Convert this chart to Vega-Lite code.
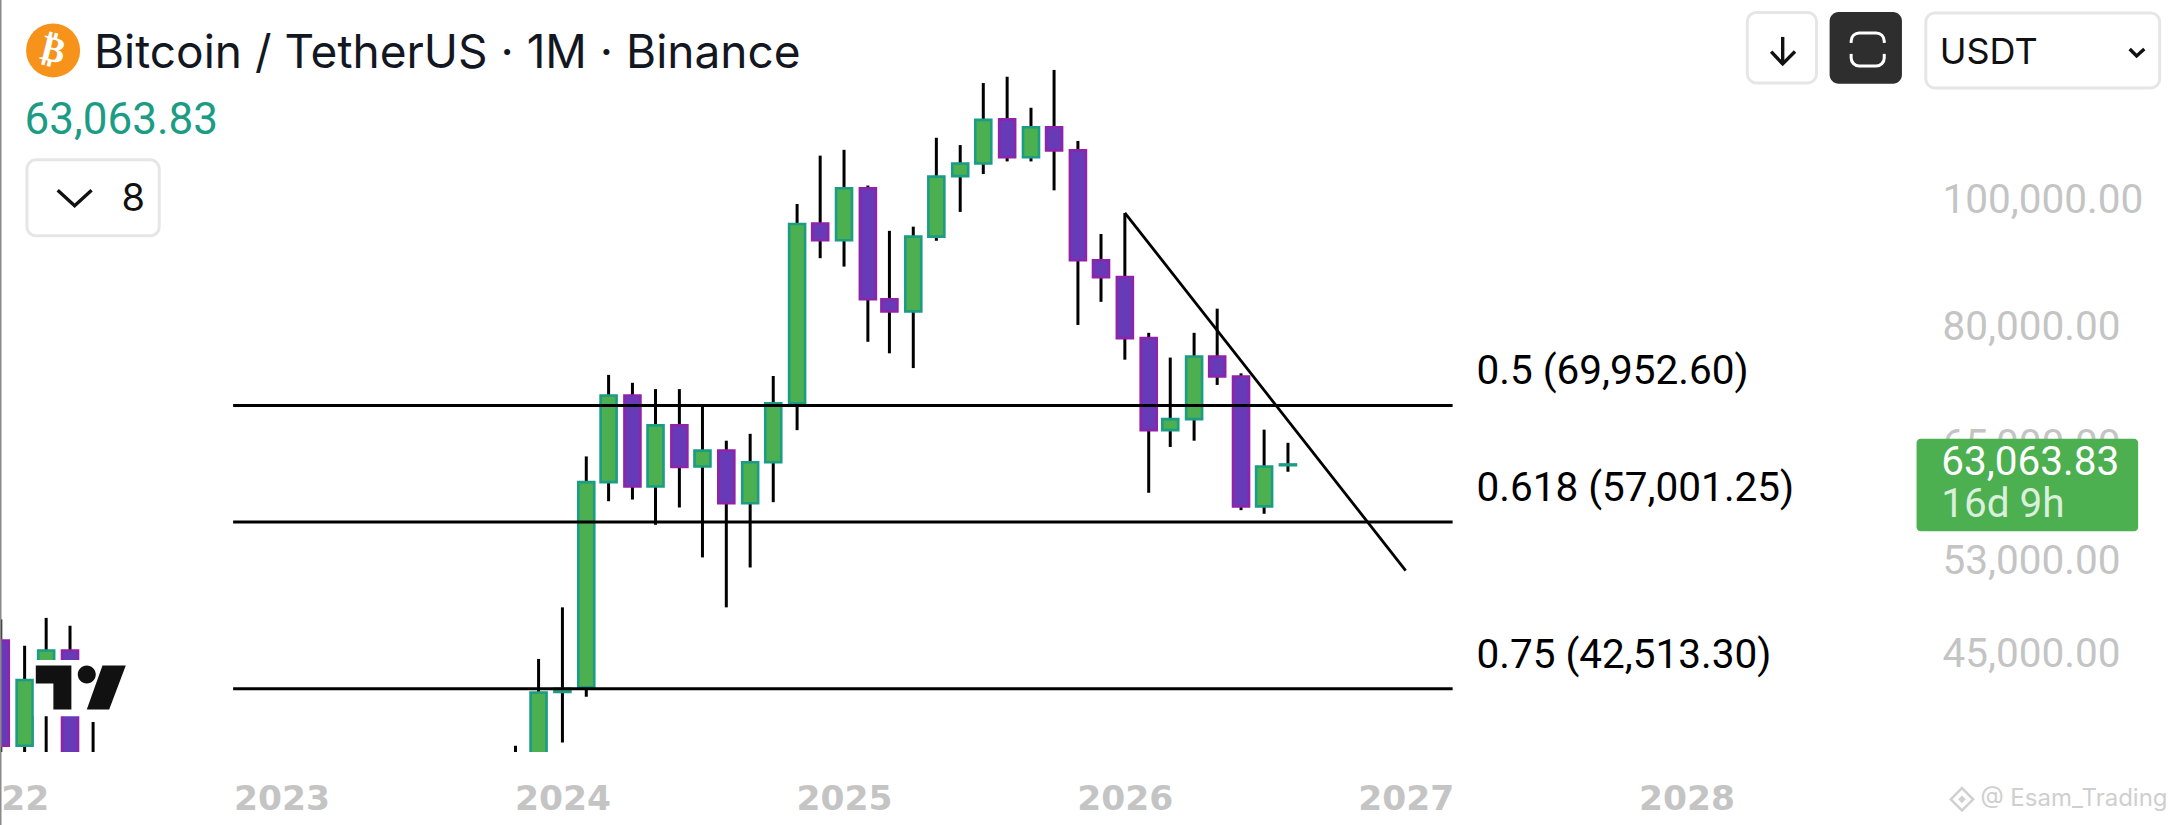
{
  "$schema": "https://vega.github.io/schema/vega-lite/v6.json",
  "width": 2172,
  "height": 752,
  "autosize": "none",
  "padding": {"left": 0, "top": 0, "right": 0, "bottom": 73},
  "background": "white",
  "view": {"stroke": null},
  "title": {
    "text": "Bitcoin / TetherUS · 1M · Binance",
    "anchor": "start",
    "frame": "group",
    "orient": "top",
    "offset": 0,
    "dx": 94,
    "dy": 101,
    "baseline": "middle",
    "font": "Inter",
    "fontSize": 46,
    "fontWeight": "normal",
    "color": "#131722"
  },
  "datasets": {
    "candles": [
      {"date": "2022-01-01", "open": 46280, "high": 48030, "low": 32900, "close": 38470, "dir": "down"},
      {"date": "2022-02-01", "open": 38470, "high": 45860, "low": 34320, "close": 43180, "dir": "up"},
      {"date": "2022-03-01", "open": 43180, "high": 48160, "low": 37150, "close": 45480, "dir": "up"},
      {"date": "2022-04-01", "open": 45480, "high": 47500, "low": 37580, "close": 37630, "dir": "down"},
      {"date": "2022-05-01", "open": 37630, "high": 40110, "low": 26700, "close": 31800, "dir": "down"},
      {"date": "2023-11-01", "open": 34650, "high": 38470, "low": 34100, "close": 37720, "dir": "up"},
      {"date": "2023-12-01", "open": 37720, "high": 44810, "low": 37630, "close": 42240, "dir": "up"},
      {"date": "2024-01-01", "open": 42280, "high": 49060, "low": 38690, "close": 42510, "dir": "up"},
      {"date": "2024-02-01", "open": 42630, "high": 63960, "low": 41930, "close": 61130, "dir": "up"},
      {"date": "2024-03-01", "open": 61130, "high": 73810, "low": 59120, "close": 71190, "dir": "up"},
      {"date": "2024-04-01", "open": 71190, "high": 72790, "low": 59290, "close": 60670, "dir": "down"},
      {"date": "2024-05-01", "open": 60670, "high": 71990, "low": 56720, "close": 67540, "dir": "up"},
      {"date": "2024-06-01", "open": 67540, "high": 71990, "low": 58470, "close": 62780, "dir": "down"},
      {"date": "2024-07-01", "open": 62840, "high": 69950, "low": 53560, "close": 64610, "dir": "up"},
      {"date": "2024-08-01", "open": 64610, "high": 65750, "low": 49060, "close": 58910, "dir": "down"},
      {"date": "2024-09-01", "open": 58910, "high": 66550, "low": 52620, "close": 63310, "dir": "up"},
      {"date": "2024-10-01", "open": 63310, "high": 73670, "low": 59020, "close": 70210, "dir": "up"},
      {"date": "2024-11-01", "open": 70210, "high": 99660, "low": 66980, "close": 96220, "dir": "up"},
      {"date": "2024-12-01", "open": 96300, "high": 108500, "low": 90610, "close": 93500, "dir": "down"},
      {"date": "2025-01-01", "open": 93500, "high": 109610, "low": 89280, "close": 102460, "dir": "up"},
      {"date": "2025-02-01", "open": 102460, "high": 102940, "low": 78230, "close": 84310, "dir": "down"},
      {"date": "2025-03-01", "open": 84310, "high": 95070, "low": 76660, "close": 82530, "dir": "down"},
      {"date": "2025-04-01", "open": 82530, "high": 95770, "low": 74700, "close": 94110, "dir": "up"},
      {"date": "2025-05-01", "open": 94110, "high": 111960, "low": 93420, "close": 104570, "dir": "up"},
      {"date": "2025-06-01", "open": 104660, "high": 110530, "low": 98280, "close": 107010, "dir": "up"},
      {"date": "2025-07-01", "open": 107010, "high": 123255, "low": 105050, "close": 115530, "dir": "up"},
      {"date": "2025-08-01", "open": 115640, "high": 124630, "low": 107400, "close": 108200, "dir": "down"},
      {"date": "2025-09-01", "open": 108200, "high": 118020, "low": 107400, "close": 114050, "dir": "up"},
      {"date": "2025-10-01", "open": 114050, "high": 126130, "low": 102080, "close": 109510, "dir": "down"},
      {"date": "2025-11-01", "open": 109510, "high": 111340, "low": 80580, "close": 90280, "dir": "down"},
      {"date": "2025-12-01", "open": 90280, "high": 94540, "low": 83920, "close": 87640, "dir": "down"},
      {"date": "2026-01-01", "open": 87640, "high": 98100, "low": 75810, "close": 78740, "dir": "down"},
      {"date": "2026-02-01", "open": 78740, "high": 79470, "low": 60000, "close": 66980, "dir": "down"},
      {"date": "2026-03-01", "open": 66980, "high": 76090, "low": 65030, "close": 68290, "dir": "up"},
      {"date": "2026-04-01", "open": 68290, "high": 79470, "low": 65750, "close": 76230, "dir": "up"},
      {"date": "2026-05-01", "open": 76230, "high": 82920, "low": 72520, "close": 73600, "dir": "down"},
      {"date": "2026-06-01", "open": 73600, "high": 74010, "low": 58200, "close": 58580, "dir": "down"},
      {"date": "2026-07-01", "open": 58580, "high": 67040, "low": 57830, "close": 62840, "dir": "up"},
      {"date": "2026-08-01", "open": 62980, "high": 65510, "low": 62260, "close": 63063.83, "dir": "up"}
    ],
    "fib": [
      {"date": "2022-10-30", "date2": "2027-03-03", "label_date": "2027-04-03", "price": 69952.6, "label": "0.5 (69,952.60)"},
      {"date": "2022-10-30", "date2": "2027-03-03", "label_date": "2027-04-03", "price": 57001.25, "label": "0.618 (57,001.25)"},
      {"date": "2022-10-30", "date2": "2027-03-03", "label_date": "2027-04-03", "price": 42513.3, "label": "0.75 (42,513.30)"}
    ],
    "trend": [
      {"date": "2026-01-01", "price": 98130},
      {"date": "2027-01-01", "price": 52340}
    ],
    "buttons": [
      {"name": "collapse", "date": "2022-02-04", "date2": "2022-07-26", "price": 107700, "price2": 94250},
      {"name": "down", "date": "2028-03-20", "date2": "2028-06-18", "price": 139510, "price2": 123290},
      {"name": "currency", "date": "2028-11-07", "date2": "2029-09-07", "price": 139420, "price2": 122210}
    ],
    "strokes": [
      {"name": "chevron8", "date": "2022-03-16", "price": 102090},
      {"name": "chevron8", "date": "2022-04-07", "price": 99350},
      {"name": "chevron8", "date": "2022-04-29", "price": 102090},
      {"name": "arrow", "date": "2028-04-20", "price": 130270},
      {"name": "arrow", "date": "2028-05-05", "price": 127470},
      {"name": "arrow", "date": "2028-05-21", "price": 130270},
      {"name": "shaft", "date": "2028-05-05", "price": 133660},
      {"name": "shaft", "date": "2028-05-05", "price": 127470},
      {"name": "chevronUsdt", "date": "2029-07-30", "price": 130870},
      {"name": "chevronUsdt", "date": "2029-08-08", "price": 129280},
      {"name": "chevronUsdt", "date": "2029-08-18", "price": 130870}
    ]
  },
  "encoding": {
    "x": {
      "field": "date",
      "type": "temporal",
      "title": null,
      "scale": {"type": "utc", "domain": ["2021-12-31", "2029-09-23"], "padding": 0},
      "axis": {
        "values": ["2022-01-01", "2023-01-01", "2024-01-01", "2025-01-01", "2026-01-01", "2027-01-01", "2028-01-01"],
        "format": "%Y",
        "grid": false,
        "domain": false,
        "ticks": false,
        "labelFont": "DejaVu Sans",
        "labelFontWeight": "bold",
        "labelFontSize": 34.5,
        "labelColor": "#c4c4c4",
        "labelPadding": 30,
        "labelOverlap": false,
        "labelFlush": false,
        "labelBound": false
      }
    },
    "y": {
      "field": "price",
      "type": "quantitative",
      "title": null,
      "scale": {"type": "log", "domain": [38050, 142620], "nice": false, "zero": false},
      "axis": {
        "orient": "right",
        "values": [45000, 53000, 65000, 80000, 100000],
        "format": ",.2f",
        "grid": false,
        "domain": false,
        "ticks": false,
        "labelFont": "Roboto",
        "labelFontSize": 40.5,
        "labelColor": "#c4c4c4",
        "labelAlign": "left",
        "labelPadding": -230,
        "labelOffset": -2,
        "labelLimit": 400,
        "labelOverlap": false,
        "labelBound": false
      }
    }
  },
  "layer": [
    {
      "data": {"name": "candles"},
      "mark": {"type": "rule", "color": "#000000", "strokeWidth": 3, "clip": true},
      "encoding": {
        "y": {"field": "low", "type": "quantitative"},
        "y2": {"field": "high"}
      }
    },
    {
      "data": {"name": "candles"},
      "mark": {"type": "bar", "size": 16, "strokeWidth": 2.6, "clip": true},
      "encoding": {
        "y": {"field": "open", "type": "quantitative"},
        "y2": {"field": "close"},
        "fill": {"field": "dir", "type": "nominal", "legend": null, "scale": {"domain": ["up", "down"], "range": ["#4caf50", "#673ab7"]}},
        "stroke": {"field": "dir", "type": "nominal", "legend": null, "scale": {"domain": ["up", "down"], "range": ["#1b9c85", "#8e24aa"]}}
      }
    },
    {
      "data": {"values": [{"date": "2022-02-13", "date2": "2022-06-14", "price": 44730, "price2": 40520}]},
      "mark": {"type": "rect", "fill": "#ffffff"},
      "encoding": {
        "x2": {"field": "date2"},
        "y2": {"field": "price2"}
      }
    },
    {
      "data": {"values": [{"date": "2022-04-15", "price": 42620}]},
      "mark": {
        "type": "point",
        "filled": true,
        "opacity": 1,
        "color": "#111111",
        "size": 8100,
        "shape": "M-1 -.489L-.209 -.489L-.209 .489L-.609 .489L-.609 -.089L-1 -.089ZM-.067 -.289a.2 .2 0 1 0 .4 0a.2 .2 0 1 0 -.4 0ZM.482 -.489L1 -.489L.631 .489L.133 .489Z"
      }
    },
    {
      "data": {"name": "fib"},
      "mark": {"type": "rule", "color": "#000000", "strokeWidth": 3},
      "encoding": {"x2": {"field": "date2"}}
    },
    {
      "data": {"name": "trend"},
      "mark": {"type": "line", "color": "#000000", "strokeWidth": 2.8}
    },
    {
      "data": {"name": "fib"},
      "mark": {"type": "text", "align": "left", "baseline": "middle", "dy": -33, "font": "Roboto", "fontSize": 40.5, "color": "#000000"},
      "encoding": {
        "x": {"field": "label_date", "type": "temporal"},
        "text": {"field": "label"}
      }
    },
    {
      "data": {"values": [{"date": "2028-10-26", "date2": "2029-08-10", "price": 65990, "price2": 56090}]},
      "mark": {"type": "rect", "fill": "#4caf50", "cornerRadius": 4},
      "encoding": {"x2": {"field": "date2"}, "y2": {"field": "price2"}}
    },
    {
      "data": {"values": [{"date": "2028-11-27", "price": 63270, "label": "63,063.83"}]},
      "mark": {"type": "text", "align": "left", "baseline": "middle", "font": "Roboto", "fontSize": 40.5, "color": "#ffffff"},
      "encoding": {"text": {"field": "label"}}
    },
    {
      "data": {"values": [{"date": "2028-11-27", "price": 58880, "label": "16d 9h"}]},
      "mark": {"type": "text", "align": "left", "baseline": "middle", "font": "Roboto", "fontSize": 40.5, "dy": 1, "color": "#dbf0dc"},
      "encoding": {"text": {"field": "label"}}
    },
    {
      "data": {"name": "buttons"},
      "mark": {"type": "rect", "fill": "#ffffff", "stroke": "#e6e6e6", "strokeWidth": 3, "cornerRadius": 9},
      "encoding": {"x2": {"field": "date2"}, "y2": {"field": "price2"}}
    },
    {
      "data": {"values": [{"date": "2028-07-05", "date2": "2028-10-07", "price": 139660, "price2": 123080}]},
      "mark": {"type": "rect", "fill": "#2e2e2e", "cornerRadius": 9},
      "encoding": {"x2": {"field": "date2"}, "y2": {"field": "price2"}}
    },
    {
      "data": {"values": [{"date": "2028-08-02", "date2": "2028-09-14", "price": 134600, "price2": 127020}]},
      "mark": {"type": "rect", "fill": "#2e2e2e", "stroke": "#ffffff", "strokeWidth": 3, "cornerRadius": 8},
      "encoding": {"x2": {"field": "date2"}, "y2": {"field": "price2"}}
    },
    {
      "data": {"values": [
        {"date": "2028-07-27", "date2": "2028-08-07", "price": 132260, "price2": 129730},
        {"date": "2028-09-08", "date2": "2028-09-18", "price": 132260, "price2": 129730}
      ]},
      "mark": {"type": "rect", "fill": "#2e2e2e"},
      "encoding": {"x2": {"field": "date2"}, "y2": {"field": "price2"}}
    },
    {
      "data": {"name": "strokes"},
      "mark": {"type": "line", "color": "#111111", "strokeWidth": 3.4},
      "encoding": {"detail": {"field": "name"}}
    },
    {
      "data": {"values": [{"date": "2022-03-10", "price": 130530}]},
      "mark": {"type": "point", "filled": true, "opacity": 1, "shape": "circle", "size": 2916, "color": "#f7931a"}
    },
    {
      "data": {"values": [{"date": "2022-03-10", "price": 130530, "label": "₿"}]},
      "mark": {"type": "text", "align": "center", "baseline": "middle", "angle": 14, "font": "DejaVu Sans", "fontWeight": "bold", "fontSize": 36, "color": "#ffffff"},
      "encoding": {"text": {"field": "label"}}
    },
    {
      "data": {"values": [{"date": "2022-02-01", "price": 115530, "label": "63,063.83"}]},
      "mark": {"type": "text", "align": "left", "baseline": "middle", "font": "Roboto", "fontSize": 44, "dy": 1, "color": "#1b9c85"},
      "encoding": {"text": {"field": "label"}}
    },
    {
      "data": {"values": [{"date": "2022-06-21", "price": 100750, "label": "8"}]},
      "mark": {"type": "text", "align": "center", "baseline": "middle", "font": "Inter", "fontSize": 38, "dy": 2, "dx": 1, "color": "#111111"},
      "encoding": {"text": {"field": "label"}}
    },
    {
      "data": {"values": [{"date": "2028-11-25", "price": 130640, "label": "USDT"}]},
      "mark": {"type": "text", "align": "left", "baseline": "middle", "font": "Inter", "fontSize": 36, "dy": 3, "color": "#111111"},
      "encoding": {"text": {"field": "label"}}
    },
    {
      "data": {"values": [{"date": "2028-12-24", "price": 35015}]},
      "mark": {"type": "point", "shape": "diamond", "size": 500, "strokeWidth": 2.5, "color": "#d0d0d0", "opacity": 1}
    },
    {
      "data": {"values": [{"date": "2028-12-24", "price": 35015}]},
      "mark": {"type": "point", "filled": true, "shape": "diamond", "size": 60, "color": "#d0d0d0", "opacity": 1}
    },
    {
      "data": {"values": [{"date": "2029-01-17", "price": 35015, "label": "@ Esam_Trading"}]},
      "mark": {"type": "text", "align": "left", "baseline": "middle", "font": "Inter", "fontSize": 24, "color": "#cfcfcf"},
      "encoding": {"text": {"field": "label"}}
    },
    {
      "data": {"values": [{"date": "2021-12-31", "price": 142620, "price2": 33000}]},
      "mark": {"type": "rule", "color": "#8a8a8a", "strokeWidth": 3},
      "encoding": {"y2": {"field": "price2"}}
    }
  ]
}
